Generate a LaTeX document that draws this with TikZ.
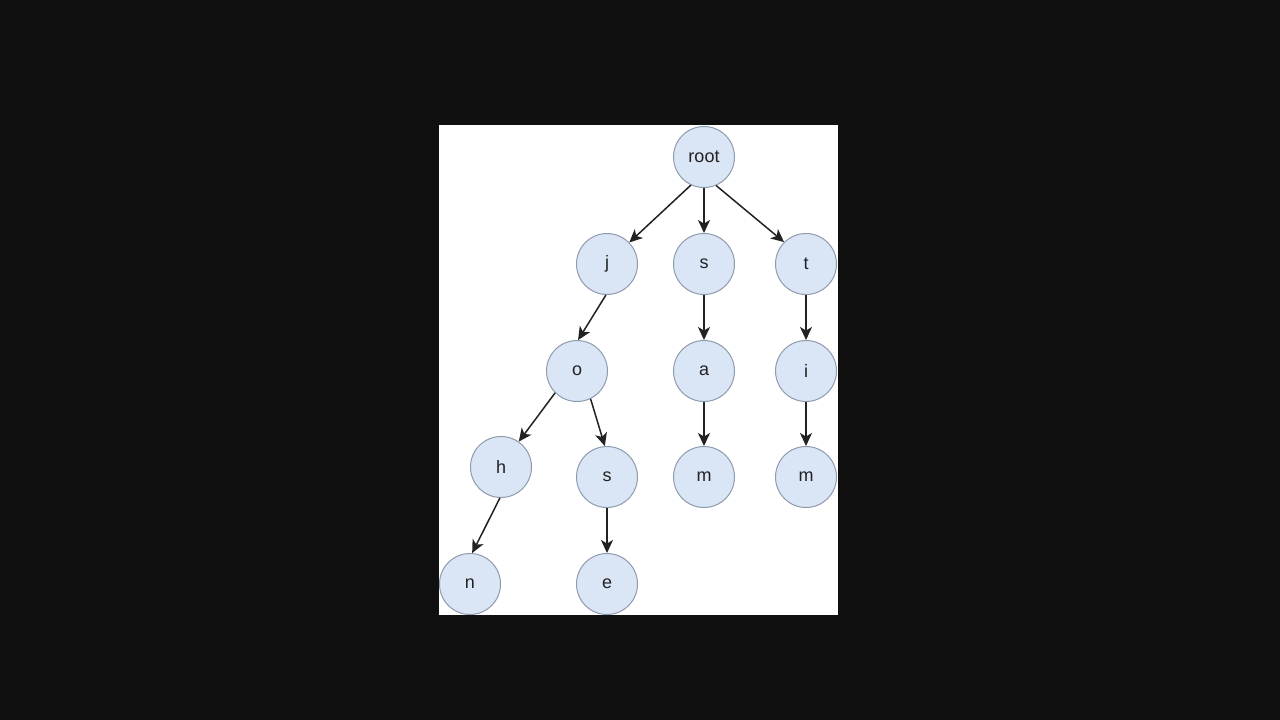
\documentclass[tikz,border=0pt]{standalone}
\usepackage{fontspec}
\setmainfont{Liberation Sans}
\usetikzlibrary{arrows.meta}
\definecolor{screen}{HTML}{0F0F0F}
\definecolor{nodefill}{HTML}{DAE5F5}
\definecolor{nodeline}{HTML}{8E9AAE}
\definecolor{ink}{HTML}{222222}
\tikzset{
    line/.style={
        line width=1.5pt, ink
    },
    arrow/.style={
        line,
        ->,
        > = {
            Stealth[length=13pt, width=12pt, inset=3.5pt]
        }
    },
    letter/.style={
        circle, draw=nodeline, line width=1pt, fill=nodefill,
        minimum size=61pt, inner sep=0pt, text=ink,
        font=\fontsize{18}{20}\selectfont
    }
}

\begin{document}
\begin{tikzpicture}[x=1pt, y=-1pt]
    % Frame:
    \fill [screen] (0, 0) rectangle (1280, 720);
    \fill [white] (439, 125) rectangle (838, 615);
    \useasboundingbox (0, 0) rectangle (1280, 720);
    % Level 0:
    \node [letter] (root) at (704, 157) {root};
    % Level 1:
    \node [letter] (j) at (607, 264) {j};
    \node [letter] (s) at (704, 264) {s};
    \node [letter] (t) at (806, 264) {t};
    % Level 2:
    \node [letter] (o) at (577, 371) {o};
    \node [letter] (a) at (704, 371) {a};
    \node [letter] (i) at (806, 371) {i};
    % Level 3:
    \node [letter] (h) at (501, 467) {h};
    \node [letter] (os) at (607, 477) {s};
    \node [letter] (am) at (704, 477) {m};
    \node [letter] (im) at (806, 477) {m};
    % Level 4:
    \node [letter] (n) at (470, 584) {n};
    \node [letter] (e) at (607, 584) {e};
    % Edges:
    \draw [arrow] (root.245) -- (j.44);
    \draw [arrow] (root.270) -- (s.90);
    \draw [arrow] (root.293) -- (t.135);
    \draw [arrow] (j.268) -- (o.88);
    \draw [arrow] (o.225) -- (h.55);
    \draw [arrow] (o.296) -- (os.94);
    \draw [arrow] (h.268) -- (n.86);
    \draw [arrow] (os.270) -- (e.90);
    \draw [arrow] (s.270) -- (a.90);
    \draw [arrow] (a.270) -- (am.90);
    \draw [arrow] (t.270) -- (i.90);
    \draw [arrow] (i.270) -- (im.90);
\end{tikzpicture}
\end{document}
